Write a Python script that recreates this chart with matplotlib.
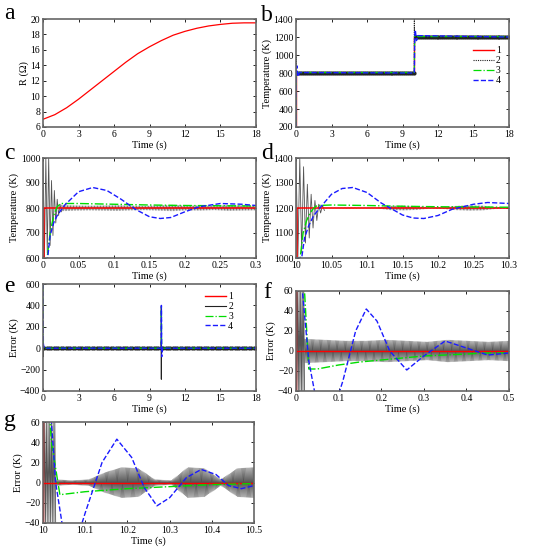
import numpy as np
import matplotlib
matplotlib.use("Agg")
import matplotlib.pyplot as plt

plt.rcParams['font.family'] = ['Liberation Serif', 'DejaVu Serif']
plt.rcParams['font.size'] = 7.5

# ---------------- data ----------------
# a: resistance
a_t = [0, 1, 2, 3, 4, 5, 6, 7, 8, 9, 10, 11, 12, 13, 14, 15, 16, 17, 18]
a_R = [7.0, 7.6, 8.5, 9.6, 10.8, 12.0, 13.2, 14.4, 15.5, 16.4, 17.2, 17.9, 18.4, 18.8, 19.1, 19.3, 19.45, 19.5, 19.5]

# b: overview temperature
b_t_ref = [0, 0.02, 0.02, 10, 10, 18]
b_T_ref = [200, 200, 800, 800, 1200, 1200]
b_t_blk = [0, 0.01, 0.02, 0.05, 0.1, 10, 10.005, 10.01, 10.03, 10.1, 18]
b_T_blk = [200, 1000, 650, 820, 800, 800, 1400, 1100, 1230, 1200, 1200]
b_t_grn = [0, 0.03, 0.1, 10, 10.03, 10.1, 18]
b_T_grn = [200, 810, 805, 805, 1210, 1205, 1205]
b_t_blu = [0, 0.03, 0.07, 0.17, 0.3, 10, 10.03, 10.08, 10.18, 10.3, 18]
b_T_blu = [200, 810, 880, 760, 805, 800, 1210, 1280, 1160, 1215, 1200]

# c: temperature detail, first step
c_t_ref = [0, 0.001, 0.001, 0.3]
c_T_ref = [200, 200, 800, 800]
c_t_grn = [0, 0.005, 0.01, 0.015, 0.02, 0.025, 0.05, 0.1, 0.15, 0.2, 0.3]
c_T_grn = [200, 580, 700, 770, 805, 818, 818, 815, 812, 810, 808]
c_t_blu = [0, 0.005, 0.01, 0.015, 0.02, 0.03, 0.05, 0.07, 0.09, 0.11, 0.13, 0.15, 0.165, 0.18, 0.2, 0.22, 0.25, 0.28, 0.3]
c_T_blu = [200, 560, 690, 740, 770, 810, 865, 882, 870, 835, 795, 765, 758, 762, 785, 805, 818, 815, 810]
c_ring = [1000, 600, 1000, 620, 1000, 650, 910, 690, 870, 740, 835, 770, 815, 785]
c_ripple = [12, 10, 9, 10, 11, 9, 8, 10, 12, 9, 10, 8, 11, 10, 9]

# d: temperature detail, second step
d_t_ref = [10, 10.001, 10.001, 10.3]
d_T_ref = [1000, 1000, 1200, 1200]
d_t_grn = [10, 10.005, 10.01, 10.015, 10.02, 10.025, 10.03, 10.05, 10.1, 10.15, 10.2, 10.3]
d_T_grn = [1000, 980, 1100, 1150, 1180, 1200, 1210, 1212, 1210, 1207, 1205, 1203]
d_t_blu = [10, 10.008, 10.012, 10.018, 10.025, 10.035, 10.05, 10.065, 10.08, 10.1, 10.12, 10.15, 10.165, 10.18, 10.2, 10.22, 10.25, 10.27, 10.3]
d_T_blu = [1000, 1000, 1080, 1130, 1170, 1205, 1255, 1278, 1282, 1262, 1220, 1172, 1160, 1158, 1170, 1195, 1215, 1222, 1218]
d_ring = [1400, 1000, 1400, 1020, 1365, 1060, 1295, 1080, 1255, 1120, 1230, 1150, 1215, 1180, 1210, 1190]
d_ripple = [1, 1, 2, 1, 1, 8, 9, 7, 2, 3, 8, 10, 9, 3, 2]

# e: overview error
e_t_blk = [0, 0.005, 0.01, 0.02, 0.05, 10, 10.002, 10.004, 10.006, 10.02, 18]
e_E_blk = [0, -80, 30, -10, 0, 0, 390, -290, 60, 0, 0]
e_t_grn = [0, 0.005, 0.03, 10, 10.005, 10.03, 18]
e_E_grn = [600, 500, 0, 0, 380, 0, 0]
e_t_blu = [0, 0.005, 0.03, 0.1, 10, 10.005, 10.03, 10.1, 18]
e_E_blu = [600, 500, 40, 0, 0, 400, -80, 0, 0]

# f: error detail, first step
f_t_grn = [0, 0.01, 0.02, 0.03, 0.05, 0.1, 0.15, 0.2, 0.25, 0.3, 0.35, 0.4, 0.45, 0.5]
f_E_grn = [600, 200, 60, -18, -18, -14, -11, -9, -7, -5, -4, -3, -2, -2]
f_t_blu = [0, 0.015, 0.03, 0.05, 0.08, 0.11, 0.14, 0.165, 0.19, 0.22, 0.26, 0.3, 0.35, 0.4, 0.45, 0.5]
f_E_blu = [600, 60, -10, -55, -70, -30, 20, 42, 30, 0, -19, -5, 10, 3, -4, -2]
f_env_A = [12, 11, 10, 10, 11, 10, 9, 11, 10, 9, 10]

# g: error detail, second step
g_t_grn = [10, 10.01, 10.02, 10.04, 10.1, 10.2, 10.3, 10.4, 10.5]
g_E_grn = [200, 100, 40, -12, -9, -6, -4, -2, -1]
g_t_blu = [10, 10.015, 10.02, 10.03, 10.045, 10.07, 10.1, 10.14, 10.175, 10.21, 10.24, 10.27, 10.3, 10.34, 10.375, 10.41, 10.44, 10.47, 10.5]
g_E_blu = [600, 200, 60, 0, -40, -70, -30, 20, 43, 25, -5, -23, -15, 5, 13, 8, -3, -6, -3]
g_env_A = [3, 2, 3, 10, 15, 14, 3, 2, 15, 14, 3, 14, 15]

RED, BLK, GRN, BLU = '#ff0000', '#222222', '#00dd00', '#1a1aff'

# ---------------- figure ----------------
fig = plt.figure(figsize=(5.39, 5.5), dpi=100)
W, H = 539, 550
def ax_at(l, t, r, b):
    return fig.add_axes([l / W, 1 - b / H, (r - l) / W, (b - t) / H])

axa = ax_at(43, 19, 256, 127)
axb = ax_at(296, 19, 509, 127)
axc = ax_at(43, 158, 256, 258)
axd = ax_at(296, 158, 509, 258)
axe = ax_at(43, 284, 256, 391)
axf = ax_at(296, 291, 509, 391)
axg = ax_at(43, 422, 254, 523)

def style(ax, xlim, xt, ylim, yt, ylab, xfmt=None):
    ax.set_xlim(*xlim); ax.set_ylim(*ylim)
    ax.set_xticks(xt); ax.set_yticks(yt)
    if xfmt:
        ax.set_xticklabels(xfmt)
    ax.tick_params(direction='in', length=2.5, width=0.6, top=True, right=True, labelsize=7, pad=2)
    for s in ax.spines.values():
        s.set_color('#666666'); s.set_linewidth(1.2)
    ax.set_xlabel('Time (s)', fontsize=7.5, labelpad=1)
    ax.set_ylabel(ylab, fontsize=7.5, labelpad=1)

def label(ch, x, y):
    fig.text(x / W, 1 - y / H, ch, fontsize=17, va='top', ha='left')

def zigzag(t0, t1, vals, base=0.0):
    t = np.linspace(t0, t1, len(vals))
    return t, np.asarray(vals, float) + base

def ripple(t0, t1, amps, base, n=400):
    t = np.linspace(t0, t1, n)
    env = np.interp(t, np.linspace(t0, t1, len(amps)), amps)
    sign = np.where(np.arange(n) % 2 == 0, 1, -1)
    return t, base + sign * env

# a
axa.plot(a_t, a_R, color=RED, lw=0.9)
style(axa, (0, 18), range(0, 19, 3), (6, 20), range(6, 21, 2), 'R (Ω)')
label('a', 4, 3)

# b
axb.plot(b_t_ref, b_T_ref, color=RED, lw=1, label='1')
axb.plot(b_t_blk, b_T_blk, color=BLK, lw=0.8, ls=(0, (1, 1)), label='2')
tb, vb = ripple(0.1, 10, [0]*5, 800, 60)
axb.plot(tb, vb, ls='none', marker='o', ms=2, color=BLK)
tb, vb = ripple(10.1, 18, [0]*5, 1200, 50)
axb.plot(tb, vb, ls='none', marker='o', ms=2, color=BLK)
axb.plot(b_t_grn, b_T_grn, color=GRN, lw=0.9, ls='-.', label='3')
axb.plot(b_t_blu, b_T_blu, color=BLU, lw=1.0, ls='--', label='4')
style(axb, (0, 18), range(0, 19, 3), (200, 1400), range(200, 1401, 200), 'Temperature (K)')
axb.legend(loc='upper right', bbox_to_anchor=(0.99, 0.8), frameon=False, fontsize=7,
           handlelength=2.2, labelspacing=0.1, handletextpad=0.2, borderaxespad=0.2)
label('b', 261, 5)

# c
tr, vr = zigzag(0.0, 0.026, c_ring)
axc.plot(tr, vr, color='#555555', lw=0.6)
ts, vs = ripple(0.026, 0.3, c_ripple, 800, 260)
axc.plot(ts, vs, color='#666666', lw=0.4)
axc.plot(c_t_ref, c_T_ref, color=RED, lw=1.1)
axc.plot(c_t_grn, c_T_grn, color=GRN, lw=1.0, ls='-.')
axc.plot(c_t_blu, c_T_blu, color=BLU, lw=1.0, ls='--')
style(axc, (0, 0.3), np.arange(0, 0.31, 0.05), (600, 1000), range(600, 1001, 100), 'Temperature (K)',
      ['0', '0.05', '0.1', '0.15', '0.2', '0.25', '0.3'])
label('c', 4, 143)

# d
tr, vr = zigzag(10.0, 10.04, d_ring)
axd.plot(tr, vr, color='#555555', lw=0.6)
ts, vs = ripple(10.04, 10.3, d_ripple, 1200, 260)
axd.plot(ts, vs, color='#666666', lw=0.4)
axd.plot(d_t_ref, d_T_ref, color=RED, lw=1.1)
axd.plot(d_t_grn, d_T_grn, color=GRN, lw=1.0, ls='-.')
axd.plot(d_t_blu, d_T_blu, color=BLU, lw=1.0, ls='--')
style(axd, (10, 10.3), np.arange(10, 10.31, 0.05), (1000, 1400), range(1000, 1401, 100), 'Temperature (K)',
      ['10', '10.05', '10.1', '10.15', '10.2', '10.25', '10.3'])
label('d', 261, 143)

# e
axe.axhline(0, color=RED, lw=1, label='1')
axe.plot(e_t_blk, e_E_blk, color=BLK, lw=0.8, label='2')
te, ve = ripple(0.1, 18, [0]*5, 0, 90)
axe.plot(te, ve, ls='none', marker='o', ms=2, color=BLK)
axe.plot(e_t_grn, e_E_grn, color=GRN, lw=0.9, ls='-.', label='3')
axe.plot(e_t_blu, e_E_blu, color=BLU, lw=1.0, ls='--', label='4')
style(axe, (0, 18), range(0, 19, 3), (-400, 600), range(-400, 601, 200), 'Error (K)')
axe.legend(loc='upper right', bbox_to_anchor=(0.92, 0.98), frameon=False, fontsize=7,
           handlelength=2.2, labelspacing=0.1, handletextpad=0.2, borderaxespad=0.2)
label('e', 4, 276)

# f
tr, vr = zigzag(0.0, 0.02, [60, -40] * 6)
axf.plot(tr, vr, color='#555555', lw=0.6)
ts, vs = ripple(0.02, 0.5, f_env_A, 0, 360)
axf.plot(ts, vs, color='#555555', lw=0.4)
axf.axhline(0, color=RED, lw=1)
axf.plot([0.001, 0.001], [-40, 60], color=RED, lw=1)
axf.plot(f_t_grn, f_E_grn, color=GRN, lw=1.0, ls='-.')
axf.plot(f_t_blu, f_E_blu, color=BLU, lw=1.0, ls='--')
style(axf, (0, 0.5), np.arange(0, 0.51, 0.1), (-40, 60), range(-40, 61, 20), 'Error (K)',
      ['0', '0.1', '0.2', '0.3', '0.4', '0.5'])
label('f', 263, 282)

# g
tr, vr = zigzag(10.0, 10.03, [60, -40] * 8)
axg.plot(tr, vr, color='#555555', lw=0.6)
ts, vs = ripple(10.03, 10.5, g_env_A, 0, 360)
axg.plot(ts, vs, color='#555555', lw=0.4)
axg.axhline(0, color=RED, lw=1)
axg.plot([10.001, 10.001], [-40, 60], color=RED, lw=1)
axg.plot(g_t_grn, g_E_grn, color=GRN, lw=1.0, ls='-.')
axg.plot(g_t_blu, g_E_blu, color=BLU, lw=1.0, ls='--')
style(axg, (10, 10.5), np.arange(10, 10.51, 0.1), (-40, 60), range(-40, 61, 20), 'Error (K)',
      ['10', '10.1', '10.2', '10.3', '10.4', '10.5'])
label('g', 4, 410)

fig.savefig('out.png', dpi=100)
